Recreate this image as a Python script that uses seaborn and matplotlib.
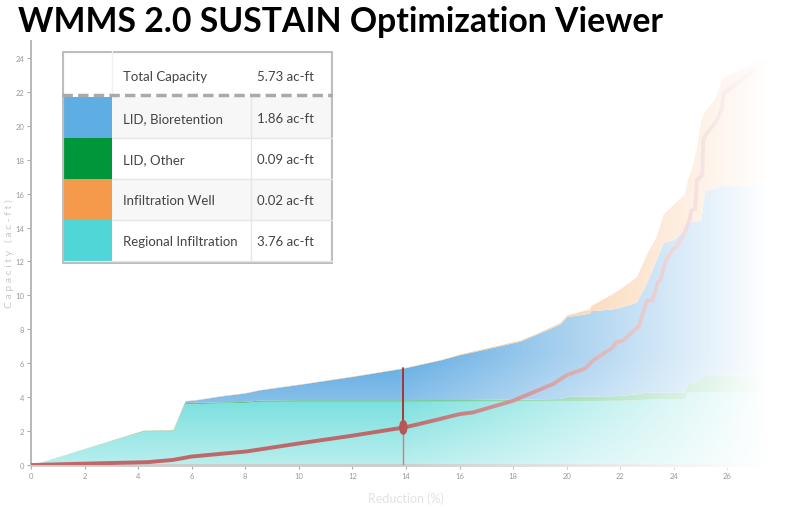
import numpy as np
import matplotlib
matplotlib.use("Agg")
import matplotlib.pyplot as plt
from matplotlib.patches import Rectangle, Ellipse, PathPatch
import seaborn as sns

# Stacked capacity curves (cumulative tops, ac-ft) vs reduction (%)
reduction = [0, 4.2, 5.3, 5.75, 6.2, 7.0, 8.0, 8.5, 10, 12, 13.9, 15.3, 16.0, 17.0,
             18.25, 19.0, 19.74, 20.0, 20.85, 20.9, 21.7, 22.0, 22.6, 23.0, 23.35,
             23.6, 24.0, 24.4, 24.5, 24.65, 24.84, 25.0, 25.15, 25.5, 25.8, 27.2, 27.6]
regional_top = [0, 2.0, 2.0, 3.6, 3.62, 3.65, 3.68, 3.75, 3.76, 3.76, 3.76, 3.76, 3.76, 3.77,
                3.77, 3.78, 3.78, 3.8, 3.8, 3.8, 3.82, 3.82, 3.85, 3.88, 3.9,
                3.9, 3.9, 3.9, 4.3, 4.3, 4.3, 4.3, 4.32, 4.32, 4.32, 4.32, 4.32]
lid_other_top = [0, 2.05, 2.07, 3.68, 3.7, 3.72, 3.75, 3.83, 3.85, 3.85, 3.85, 3.86, 3.86, 3.87,
                 3.88, 3.9, 3.92, 4.05, 4.07, 4.07, 4.08, 4.1, 4.2, 4.3, 4.3,
                 4.3, 4.3, 4.3, 4.8, 4.8, 4.9, 5.1, 5.27, 5.27, 5.3, 5.3, 5.3]
bioretention_top = [0, 2.05, 2.08, 3.78, 3.85, 4.05, 4.25, 4.42, 4.75, 5.22, 5.71, 6.2, 6.5, 6.85,
                    7.3, 7.8, 8.3, 8.75, 8.95, 9.1, 9.2, 9.3, 9.6, 10.8, 12.15,
                    13.1, 13.3, 13.9, 14.1, 14.4, 14.4, 14.4, 16.2, 16.3, 16.5, 16.5, 16.5]
total_top = [0, 2.06, 2.1, 3.8, 3.87, 4.07, 4.27, 4.44, 4.77, 5.24, 5.73, 6.22, 6.54, 6.9,
             7.36, 7.85, 8.4, 8.85, 9.2, 9.4, 10.1, 10.4, 11.1, 12.5, 13.5,
             14.8, 15.4, 16.0, 16.8, 17.45, 18.7, 20.3, 20.9, 21.5, 22.8, 23.9, 24.2]

# Second curve (red line)
line_x = [0, 2.0, 4.37, 5.3, 6.0, 8.05, 10.04, 12.0, 13.95, 14.5, 15.26, 16.0, 16.5, 18.0,
          19.5, 20.0, 20.7, 20.97, 21.7, 21.85, 22.1, 22.7, 23.0, 23.2, 23.3, 23.4, 23.5,
          23.7, 23.95, 24.1, 24.4, 24.6, 24.65, 24.8, 24.84, 24.86, 25.06, 25.1, 25.25,
          25.6, 25.8, 25.85, 27.2, 27.6]
line_y = [0, 0.08, 0.17, 0.3, 0.5, 0.8, 1.28, 1.73, 2.22, 2.42, 2.71, 3.0, 3.1, 3.79,
          4.78, 5.3, 5.7, 6.15, 6.9, 7.24, 7.33, 8.2, 9.7, 9.7, 10.2, 10.8, 10.9,
          12.05, 12.7, 12.85, 13.7, 14.5, 15.0, 15.1, 16.2, 16.8, 17.1, 19.2, 19.6,
          20.3, 21.0, 21.9, 23.5, 23.9]

selected_x = 13.9
selected_y = 2.22
selected_total = 5.73

# Table values
legend_labels = ["LID, Bioretention", "LID, Other", "Infiltration Well", "Regional Infiltration"]
legend_values = ["1.86 ac-ft", "0.09 ac-ft", "0.02 ac-ft", "3.76 ac-ft"]
legend_colors = ["#5faee3", "#00963a", "#f5994a", "#50d6d6"]
total_label = "Total Capacity"
total_value = "5.73 ac-ft"

sns.set_theme(style="white")
plt.rcParams["font.family"] = ["Lato", "DejaVu Sans"]

fig = plt.figure(figsize=(8.12, 5.10), dpi=100)
ax = fig.add_axes([31 / 812, 44 / 510, 750 / 812, 424 / 510])

x = np.array(reduction)
r = np.array(regional_top)
o = np.array(lid_other_top)
b = np.array(bioretention_top)
t = np.array(total_top)

ax.fill_between(x, 0, r, color="#4fd6d4", lw=0, zorder=1)
ax.fill_between(x, r, o, color="#2bb25e", lw=0, zorder=1)
ax.fill_between(x, o, b, color="#5eaae2", lw=0, zorder=1)
ax.fill_between(x, b, t, color="#f8b77a", lw=0, zorder=1)
outline = ax.fill_between(x, 0, t, color="none", lw=0, zorder=1)

# vertical lightening toward the baseline
vgrad = np.ones((256, 1, 4))
yy = np.linspace(25, 0, 256)
vgrad[:, 0, 3] = np.clip(0.6 * (1 - yy / 6.5), 0, 0.6)
im = ax.imshow(vgrad, extent=[0, 28, 0, 25], aspect="auto", zorder=2,
               interpolation="bilinear")
clip = PathPatch(outline.get_paths()[0], transform=ax.transData, fc="none", ec="none")
im.set_clip_path(clip)

sns.lineplot(x=line_x, y=line_y, ax=ax, color="#c25a5b", lw=2.8, alpha=0.9,
             estimator=None, sort=False, zorder=4)

ax.plot([selected_x, selected_x], [selected_y, selected_total], color="#9e2a2a",
        lw=1.3, zorder=5)
ax.plot([selected_x, selected_x], [0, selected_y], color="#c97b7b", lw=1.0, zorder=5)
ax.add_patch(Ellipse((selected_x, selected_y), 0.26, 0.8, color="#b25353", zorder=6))

# fade to white on the right
hgrad = np.ones((1, 512, 4))
xx = np.linspace(13.5, 28.5, 512)
hgrad[0, :, 3] = np.clip((xx - 13.5) / (27.4 - 13.5), 0, 1)
fade = ax.imshow(hgrad, extent=[13.5, 28.5, -0.25, 25.5], aspect="auto", zorder=10,
                 interpolation="bilinear")
fade.set_clip_on(False)

ax.set_xlim(0, 28)
ax.set_ylim(0, 25)
ax.set_xticks(np.arange(0, 27, 2))
ax.set_yticks(np.arange(0, 25, 2))
ax.tick_params(axis="both", labelsize=5.5, labelcolor="#9a9a9a", color="#aaaaaa",
               length=3, width=0.8, direction="out", bottom=True, left=True, pad=2)
for s in ["top", "right"]:
    ax.spines[s].set_visible(False)
ax.spines["left"].set_color("#b8b8b8")
ax.spines["left"].set_linewidth(1.4)
ax.spines["bottom"].set_color("#cccccc")
ax.spines["bottom"].set_linewidth(2)
ax.set_ylabel("C a p a c i t y   ( a c - f t )", color="#c8c8c8", fontsize=7.5, labelpad=1)
ax.set_xlabel("Reduction (%)", color="#e2e2e2", fontsize=9, labelpad=9)

# title
fig.text(18 / 812, 1 - 32 / 510, "WMMS 2.0 SUSTAIN Optimization Viewer", fontsize=24.3,
         fontweight="bold", color="black", va="baseline", ha="left")

# table box
tax = fig.add_axes([62 / 812, (510 - 265) / 510, 271 / 812, 213 / 510])
tax.set_zorder(20)
tax.set_xlim(0, 271)
tax.set_ylim(213, 0)
tax.axis("off")
tax.add_patch(Rectangle((0, 0), 271, 213, fc="white", ec="none"))
tax.plot([50, 50], [0, 43], color="#f0f0f0", lw=1)
tax.text(61, 25, total_label, fontsize=9.5, color="#444444", va="center")
tax.text(195, 25, total_value, fontsize=9.5, color="#444444", va="center")
for i in range(len(legend_labels)):
    top = 46 + i * 41
    bg = "#f7f7f7" if i % 2 == 0 else "white"
    tax.add_patch(Rectangle((1, top), 49, 41, fc=legend_colors[i], ec="none"))
    tax.add_patch(Rectangle((50, top), 221, 41, fc=bg, ec="none"))
    tax.plot([50, 271], [top + 41, top + 41], color="#e6e6e6", lw=1)
    tax.plot([189, 189], [top, top + 41], color="#e6e6e6", lw=1)
    tax.text(61, top + 21, legend_labels[i], fontsize=9.5, color="#444444", va="center")
    tax.text(195, top + 21, legend_values[i], fontsize=9.5, color="#444444", va="center")
tax.plot([0, 271], [44, 44], color="#aaaaaa", lw=2.5, dashes=(3, 1.5))
tax.add_patch(Rectangle((0, 0), 271, 213, fc="none", ec="#bdbdbd", lw=3))

fig.savefig("out.png", dpi=100)
